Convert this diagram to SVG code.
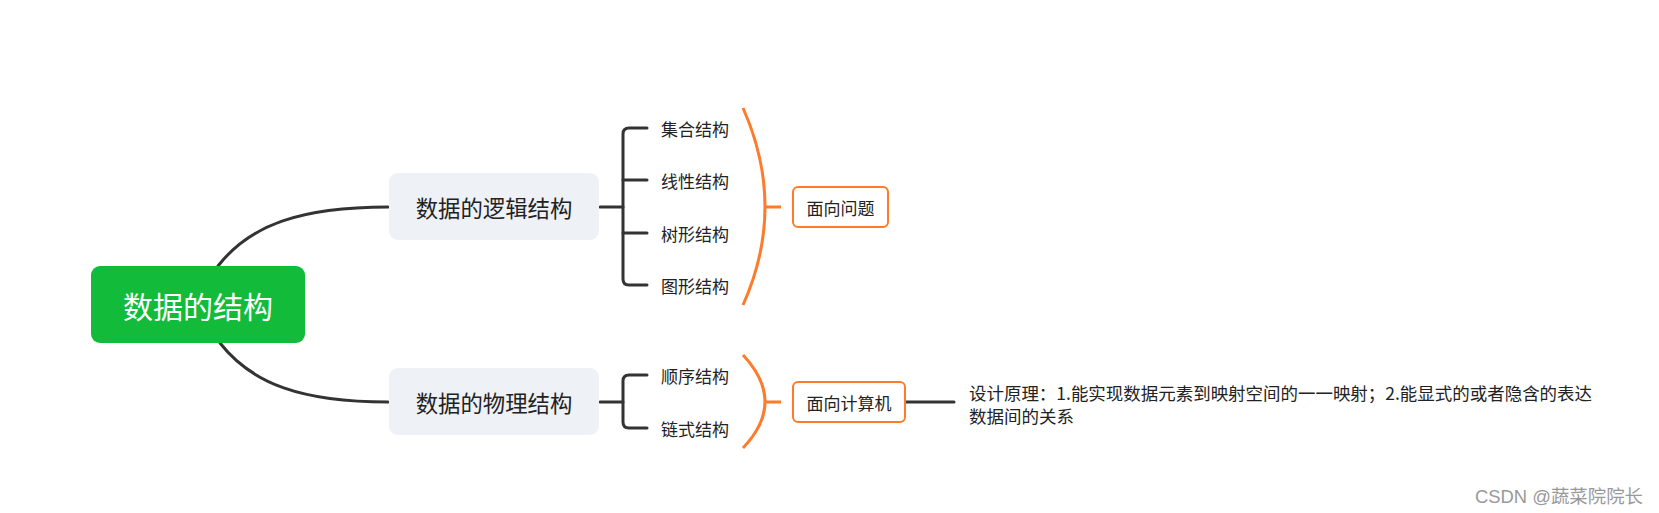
<svg xmlns="http://www.w3.org/2000/svg" width="1659" height="513" viewBox="0 0 1659 513">
<style>
text{font-family:"Microsoft YaHei","Noto Sans CJK SC",sans-serif;fill:#222;dominant-baseline:central}
.ln{fill:none;stroke:#333;stroke-width:3;stroke-linecap:round;stroke-linejoin:round}
.or{fill:none;stroke:#FF7A2A;stroke-width:3;stroke-linecap:butt}
.ob{fill:#fff;stroke:#FF7A2A;stroke-width:2}
.sub{fill:#EEF1F5}
.leaf{font-size:17px}
</style>
<rect width="1659" height="513" fill="#fff"/>
<g id="connectors">
<path class="ln" d="M218,266 C250,225 300,207 388,207"/>
<path class="ln" d="M220,343 C252,384 302,402 388,402"/>
<path class="ln" d="M600,207 H623"/>
<path class="ln" d="M647,128 H629 Q623,128 623,134 V279 Q623,285 629,285 H647"/>
<path class="ln" d="M623,180 H647 M623,233 H647"/>
<path class="ln" d="M600,402 H623"/>
<path class="ln" d="M647,375 H629 Q623,375 623,381 V422 Q623,428 629,428 H647"/>
<path class="or" d="M743,108 Q787,207 743,305"/>
<path class="or" d="M765,207 H781"/>
<path class="or" d="M743,355 Q787,402 743,448"/>
<path class="or" d="M765,402 H781"/>
<path class="ln" d="M906,402 H954" stroke-linecap="butt"/>
</g>
<g id="root">
<rect x="91" y="266" width="214" height="77" rx="9" fill="#13BB3A"/>
<text x="198" y="305" text-anchor="middle" font-size="30" style="fill:#fff">数据的结构</text>
</g>
<g id="logic">
<rect class="sub" x="389" y="173" width="210" height="67" rx="9"/>
<text x="494" y="207" text-anchor="middle" font-size="22.4">数据的逻辑结构</text>
</g>
<g id="physical">
<rect class="sub" x="389" y="368" width="210" height="67" rx="9"/>
<text x="494" y="402" text-anchor="middle" font-size="22.4">数据的物理结构</text>
</g>
<g id="leaf1"><text class="leaf" x="661" y="128">集合结构</text></g>
<g id="leaf2"><text class="leaf" x="661" y="180">线性结构</text></g>
<g id="leaf3"><text class="leaf" x="661" y="233">树形结构</text></g>
<g id="leaf4"><text class="leaf" x="661" y="285">图形结构</text></g>
<g id="leaf5"><text class="leaf" x="661" y="375">顺序结构</text></g>
<g id="leaf6"><text class="leaf" x="661" y="428">链式结构</text></g>
<g id="problem">
<rect class="ob" x="793" y="187" width="95" height="40" rx="5"/>
<text class="leaf" x="840.5" y="207" text-anchor="middle">面向问题</text>
</g>
<g id="computer">
<rect class="ob" x="793" y="382" width="112" height="40" rx="5"/>
<text class="leaf" x="849" y="402" text-anchor="middle">面向计算机</text>
</g>
<g id="principle">
<text x="969" y="392" font-size="17.5" textLength="623" lengthAdjust="spacingAndGlyphs">设计原理：1.能实现数据元素到映射空间的一一映射；2.能显式的或者隐含的表达</text>
<text x="969" y="415" font-size="17.5">数据间的关系</text>
</g>
<text x="1475" y="497" font-size="18" textLength="168" lengthAdjust="spacingAndGlyphs" style="fill:#999;font-family:'Liberation Sans','Noto Sans CJK SC',sans-serif">CSDN @蔬菜院院长</text>
</svg>
